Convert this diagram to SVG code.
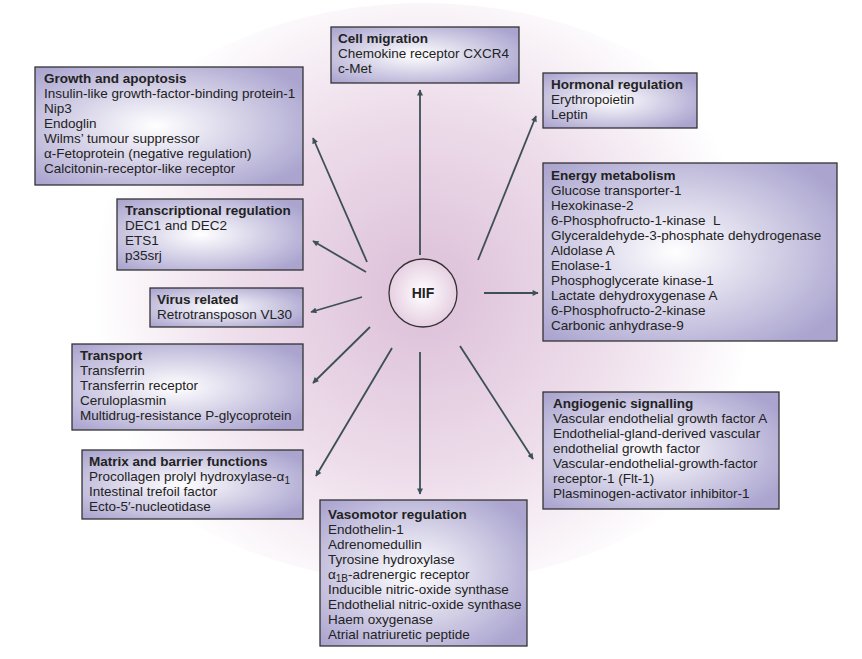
<svg xmlns="http://www.w3.org/2000/svg" width="862" height="659" viewBox="0 0 862 659">
<defs>
<radialGradient id="bg" cx="423" cy="293" r="330" gradientUnits="userSpaceOnUse">
<stop offset="0" stop-color="#dcbfd8"/><stop offset="0.55" stop-color="#eddcea"/><stop offset="1" stop-color="#ffffff"/>
</radialGradient>
<radialGradient id="box" cx="0.45" cy="0.5" r="0.65">
<stop offset="0" stop-color="#ffffff"/><stop offset="1" stop-color="#aaa4cf"/>
</radialGradient>
<radialGradient id="hif" cx="0.5" cy="0.5" r="0.5">
<stop offset="0" stop-color="#ffffff"/><stop offset="1" stop-color="#e6cfe2"/>
</radialGradient>
<marker id="ah" viewBox="0 0 10 10" refX="9" refY="5" markerWidth="7" markerHeight="6" orient="auto" markerUnits="userSpaceOnUse"><path d="M0,0 L10,5 L0,10 z" fill="#3d4f57"/></marker>
</defs>
<style>
.b{fill:url(#box);stroke:#333;stroke-width:1.3}
text{font-family:"Liberation Sans",Arial,sans-serif;font-size:13.5px;fill:#222}
.t{font-weight:bold}
.c line{stroke:#3d4f57;stroke-width:1.8;marker-end:url(#ah)}
</style>
<rect width="862" height="659" fill="#fff"/>
<ellipse cx="423" cy="293" rx="380" ry="290" fill="url(#bg)"/>
<g class="c">
<line x1="420" y1="255" x2="420" y2="90"/>
<line x1="367" y1="262" x2="313" y2="138"/>
<line x1="478" y1="260" x2="536" y2="116"/>
<line x1="366" y1="272" x2="313" y2="241"/>
<line x1="362" y1="297" x2="311" y2="312"/>
<line x1="484" y1="293" x2="538" y2="293"/>
<line x1="370" y1="327" x2="313" y2="383"/>
<line x1="392" y1="348" x2="316" y2="476"/>
<line x1="420" y1="352" x2="420" y2="494"/>
<line x1="460" y1="346" x2="533" y2="459"/>
</g>
<g id="hifnode"><circle cx="423" cy="293" r="34" fill="url(#hif)" stroke="#333" stroke-width="1.3"/><text x="423" y="298" text-anchor="middle" class="t" style="font-size:14px">HIF</text></g>
<g id="cell"><rect class="b" x="331" y="27" width="188" height="56"/><text x="338" y="43" class="t">Cell migration</text><text x="338" y="58">Chemokine receptor CXCR4</text><text x="338" y="73">c-Met</text></g>
<g id="growth"><rect class="b" x="35" y="67" width="268" height="118"/><text x="44" y="83" class="t">Growth and apoptosis</text><text x="44" y="98">Insulin-like growth-factor-binding protein-1</text><text x="44" y="113">Nip3</text><text x="44" y="128">Endoglin</text><text x="44" y="143">Wilms’ tumour suppressor</text><text x="44" y="158">α-Fetoprotein (negative regulation)</text><text x="44" y="173">Calcitonin-receptor-like receptor</text></g>
<g id="hormonal"><rect class="b" x="543" y="73" width="154" height="55"/><text x="551" y="89" class="t">Hormonal regulation</text><text x="551" y="104">Erythropoietin</text><text x="551" y="119">Leptin</text></g>
<g id="transcr"><rect class="b" x="117" y="199" width="186" height="71"/><text x="125" y="215" class="t">Transcriptional regulation</text><text x="125" y="230">DEC1 and DEC2</text><text x="125" y="245">ETS1</text><text x="125" y="260">p35srj</text></g>
<g id="energy"><rect class="b" x="543" y="163" width="294" height="178"/><text x="551" y="180" class="t">Energy metabolism</text><text x="551" y="195">Glucose transporter-1</text><text x="551" y="210">Hexokinase-2</text><text x="551" y="225" xml:space="preserve">6-Phosphofructo-1-kinase  L</text><text x="551" y="240">Glyceraldehyde-3-phosphate dehydrogenase</text><text x="551" y="255">Aldolase A</text><text x="551" y="270">Enolase-1</text><text x="551" y="285">Phosphoglycerate kinase-1</text><text x="551" y="300">Lactate dehydroxygenase A</text><text x="551" y="315">6-Phosphofructo-2-kinase</text><text x="551" y="330">Carbonic anhydrase-9</text></g>
<g id="virus"><rect class="b" x="150" y="288" width="153" height="39"/><text x="157" y="304" class="t">Virus related</text><text x="157" y="319">Retrotransposon VL30</text></g>
<g id="transport"><rect class="b" x="72" y="344" width="231" height="86"/><text x="80" y="360" class="t">Transport</text><text x="80" y="375">Transferrin</text><text x="80" y="390">Transferrin receptor</text><text x="80" y="405">Ceruloplasmin</text><text x="80" y="420">Multidrug-resistance P-glycoprotein</text></g>
<g id="angio"><rect class="b" x="543" y="392" width="236" height="117"/><text x="553" y="408" class="t">Angiogenic signalling</text><text x="553" y="423">Vascular endothelial growth factor A</text><text x="553" y="438">Endothelial-gland-derived vascular</text><text x="553" y="453">endothelial growth factor</text><text x="553" y="468">Vascular-endothelial-growth-factor</text><text x="553" y="483">receptor-1 (Flt-1)</text><text x="553" y="498">Plasminogen-activator inhibitor-1</text></g>
<g id="matrix"><rect class="b" x="82" y="450" width="221" height="69"/><text x="89" y="466" class="t">Matrix and barrier functions</text><text x="89" y="481">Procollagen prolyl hydroxylase-α<tspan dy="3" font-size="10">1</tspan></text><text x="89" y="496">Intestinal trefoil factor</text><text x="89" y="511">Ecto-5′-nucleotidase</text></g>
<g id="vaso"><rect class="b" x="320" y="500" width="207" height="146"/><text x="328" y="519" class="t">Vasomotor regulation</text><text x="328" y="534">Endothelin-1</text><text x="328" y="549">Adrenomedullin</text><text x="328" y="564">Tyrosine hydroxylase</text><text x="328" y="579">α<tspan dy="3" font-size="10">1B</tspan><tspan dy="-3">-adrenergic receptor</tspan></text><text x="328" y="594">Inducible nitric-oxide synthase</text><text x="328" y="609">Endothelial nitric-oxide synthase</text><text x="328" y="624">Haem oxygenase</text><text x="328" y="639">Atrial natriuretic peptide</text></g>
</svg>
